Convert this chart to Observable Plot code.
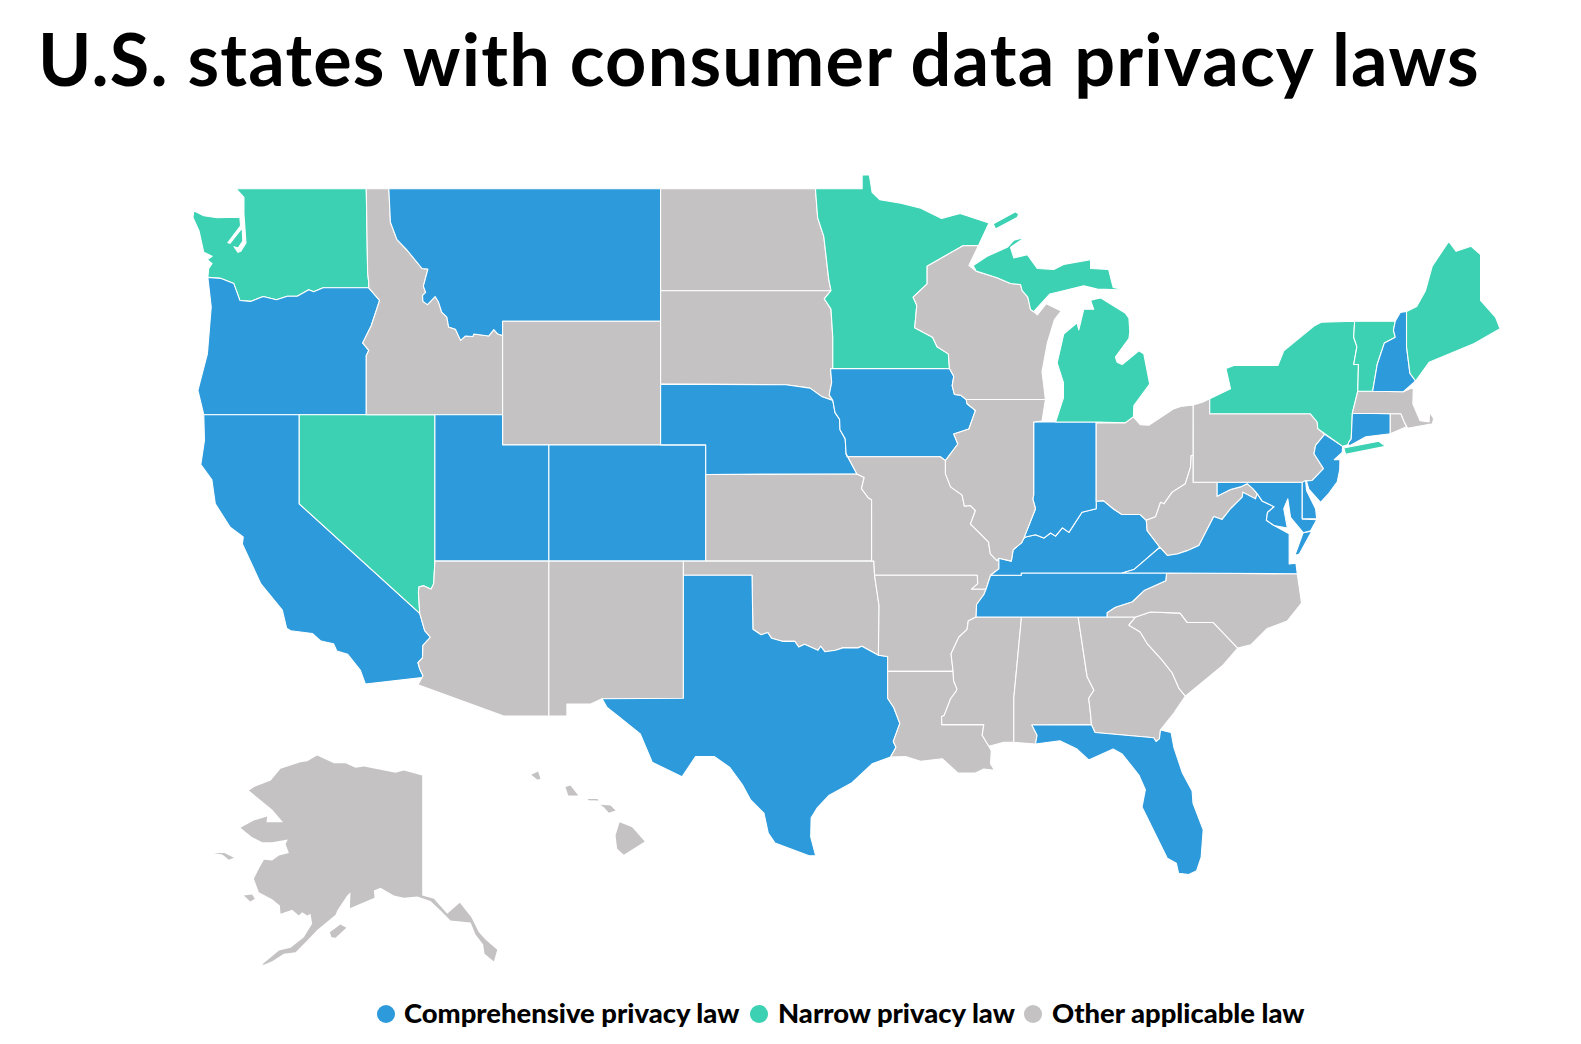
<!DOCTYPE html>
<html>
<head>
<meta charset="utf-8">
<script src="https://cdn.jsdelivr.net/npm/d3@7"></script>
<script src="https://cdn.jsdelivr.net/npm/@observablehq/plot@0.6"></script>
<style>
html,body{margin:0;padding:0;background:#fff;overflow:hidden}
#page{width:1581px;height:1044px;position:relative;font-family:Lato,"Open Sans",sans-serif;color:#000}
#title{height:160px;box-sizing:border-box;padding:13px 0 0 38px;font-size:72px;font-weight:700;line-height:90px;white-space:nowrap;letter-spacing:1.2px}
#chart{height:830px;line-height:0}
#legend{height:54px;display:block;position:relative;font-size:27.4px;font-weight:900;white-space:nowrap}
#legend span{position:absolute;top:7px;line-height:32px}
#legend i{position:absolute;top:15px;width:18px;height:18px;border-radius:50%}
</style>
</head>
<body>
<div id="page">
<div id="title">U.S. states with consumer data privacy laws</div>
<div id="chart"></div>
<div id="legend"></div>
</div>
<script>
// ---------- legend and colour categories ----------
const lawNames = ["Comprehensive privacy law", "Narrow privacy law", "Other applicable law"];
const lawColors = ["#2D9ADB", "#3DD1B4", "#C4C2C3"];
const comprehensive = ["OR","MT","CA","UT","CO","NE","IA","TX","IN","KY","TN","VA","MD","DE","NJ","CT","NH","FL"];
const narrow = ["WA","NV","MN","MI","NY","VT","ME"];

// ---------- shared borders, [longitude, latitude] ----------
const columbia = [[-124.11,46.36],[-123.55,46.33],[-122.96,46.17],[-122.69,45.65],[-122.22,45.62],[-121.66,45.77],[-121.07,45.67],[-120.59,45.78],[-120.15,45.78],[-119.64,45.98],[-119.42,45.92],[-119,46.04],[-116.98,46.04]];
const waId = [[-117.09,49],[-117.03,46.5],[-116.98,46.2],[-116.98,46.04]];
const orId = [[-116.98,46.04],[-116.5,45.65],[-116.87,44.86],[-117.25,44.32],[-116.98,44.08],[-117.09,43.92],[-117.09,42]];
const idMt = [[-116.09,49],[-116.02,48.02],[-115.73,47.5],[-115.29,47.19],[-114.62,46.63],[-114.36,46.61],[-114.56,46.09],[-114.46,45.9],[-114.6,45.8],[-114.58,45.62],[-114.38,45.52],[-114.04,45.77],[-113.89,45.6],[-113.75,45.29],[-113.52,45.13],[-113.44,44.82],[-113.14,44.75],[-112.91,44.4],[-112.69,44.54],[-112.37,44.52],[-112.32,44.6],[-111.66,44.54],[-111.44,44.74],[-111.26,44.6],[-111.05,44.55]];
const colorado = [[-114.72,35.13],[-114.5,34.5],[-114.25,34.26],[-114.58,33.96],[-114.6,33.5],[-114.8,33.33],[-114.72,33.09],[-114.58,32.85],[-114.62,32.77]];
const nvAz = [[-114.05,37],[-114.1,36.2],[-114.22,36],[-114.55,36.12],[-114.75,36.09],[-114.78,35.9],[-114.72,35.13]];
const redRiver = [[-99.96,34.55],[-99.6,34.35],[-99.3,34.43],[-99.13,34.22],[-98.66,34.11],[-98.1,34.11],[-97.93,33.9],[-97.67,34],[-97.08,33.78],[-96.96,33.93],[-96.77,33.73],[-96.3,33.78],[-95.98,33.87],[-95.31,33.87],[-95.13,33.93],[-94.4,33.6]];
const sabine = [[-93.99,33],[-93.99,32],[-93.72,31.65],[-93.45,31.05],[-93.74,30.36],[-93.62,30.14],[-93.86,29.76]];
const redNorth = [[-97.19,49],[-97.09,48.15],[-96.82,47.6],[-96.6,46.3],[-96.5,45.95]];
const mnSd = [[-96.5,45.95],[-96.8,45.7],[-96.5,45.38],[-96.42,44.5],[-96.42,43.5]];
const bigSioux = [[-96.52,43.5],[-96.47,43.05],[-96.58,42.65],[-96.42,42.47]];
const missouriNe = [[-96.42,42.47],[-96.32,42.07],[-96.12,41.85],[-96.1,41.5],[-95.87,41.2],[-95.83,40.7],[-95.35,40.02]];
const neIaLower = [[-95.83,40.7],[-95.78,40.6]];
const moKs = [[-95.35,40.02],[-95.03,39.9],[-95.15,39.52],[-94.84,39.2],[-94.7,39.14],[-94.7,37]];
const mnWi = [[-92.24,46.7],[-92.24,46.16],[-92.86,45.75],[-92.7,45.5],[-92.79,44.8],[-92,44.5],[-91.8,44.2],[-91.3,43.97],[-91.25,43.5]];
const upperMiss = [[-91.25,43.5],[-91.06,43.25],[-91.13,42.95],[-91.03,42.66],[-90.76,42.64],[-90.51,42.5]];
const midMiss = [[-90.51,42.5],[-90.47,42.36],[-90.1,42.14],[-90.39,41.53],[-91.06,41.36],[-90.88,41.03],[-91.43,40.47]];
const lowMiss = [[-91.43,40.47],[-91.43,40.03],[-91.2,39.58],[-90.69,39.3],[-90.59,38.92],[-90.32,38.94],[-90.1,38.77],[-90.32,38.3],[-89.88,37.96],[-89.52,37.67],[-89.44,37.26],[-89.15,37.02],[-89.06,37.1]];
const tnMiss = [[-89.43,36.5],[-89.63,36],[-89.73,35.8],[-90.05,35.45],[-90.07,35]];
const msArk = [[-90.07,35],[-90.42,34.85],[-90.47,34.55],[-90.84,34.26],[-91.18,33.65],[-91.09,33]];
const msLa = [[-91.09,33],[-91.07,32.66],[-90.92,32.35],[-90.95,32.27],[-91.2,31.98],[-91.48,31.36],[-91.6,31.3],[-91.59,31],[-89.73,31],[-89.8,30.6],[-89.58,30.28],[-89.5,30.18]];
const ilKy = [[-87.96,37.8],[-88.05,37.65],[-88.43,37.4],[-88.51,37],[-89.06,37.1]];
const ohioIn = [[-87.96,37.8],[-87.88,37.85],[-87.44,37.93],[-87.07,37.81],[-86.77,37.99],[-86.55,37.88],[-86.25,38.17],[-85.96,38.01],[-85.38,38.71],[-84.75,38.83],[-84.75,39.09]];
const ohioOh = [[-84.75,39.09],[-84.43,39.11],[-83.98,38.82],[-83.61,38.63],[-83.17,38.63],[-82.8,38.63],[-82.53,38.43]];
const ohioWv = [[-80.54,40.64],[-80.57,40.25],[-80.8,39.69],[-81.38,39.4],[-81.75,39],[-81.9,39.05],[-82.12,38.55],[-82.53,38.43]];
const kyWv = [[-82.53,38.43],[-82.49,38.07],[-81.93,37.49]];
const kyVa = [[-81.93,37.49],[-82.5,37.1],[-83.08,36.7],[-83.6,36.58]];
const vaWv = [[-81.93,37.49],[-81.6,37.2],[-81.16,37.25],[-80.72,37.37],[-80.2,37.55],[-79.54,38.56],[-79.17,38.46],[-78.8,38.83],[-78.28,39.23],[-78.25,39.4],[-77.69,39.17],[-77.62,39.35]];
const mdWv = [[-79.39,39.26],[-78.8,39.49],[-78.36,39.58],[-78.06,39.69],[-77.81,39.52],[-77.62,39.35]];
const potomac = [[-77.62,39.35],[-77.4,39.1],[-76.87,38.9],[-77.16,38.7],[-77.21,38.43],[-76.87,38.25]];
const tnNc = [[-84.27,35],[-84.27,35.15],[-83.9,35.35],[-83.15,35.55],[-82.63,35.95],[-81.67,36.3],[-81.63,36.58]];
const ncSc = [[-78.48,33.86],[-79.57,34.8],[-80.72,34.8],[-81.03,35.14],[-82.35,35.18],[-83,35]];
const savannah = [[-83,35],[-83.3,34.7],[-82.8,34.45],[-82.49,34.03],[-81.83,33.42],[-81.38,32.94],[-81.09,32.38],[-80.8,32.08]];
const alGa = [[-85.55,35],[-85.15,32.8],[-84.85,32.3],[-85.08,32],[-85,31.4],[-84.96,31]];
const gaFl = [[-84.96,31],[-84.8,30.7],[-82.2,30.5],[-82.1,30.36],[-81.95,30.46],[-81.9,30.8],[-81.43,30.7]];
const alFl = [[-84.96,31],[-87.6,30.99],[-87.37,30.6],[-87.44,30.26]];
const wiUp = [[-90.39,46.72],[-90.07,46.55],[-89.14,46.35],[-88.55,46.17],[-88.1,46.14],[-88.03,45.95],[-87.78,45.75],[-87.66,45.37],[-87.52,45.3]];
const nyVt = [[-73.3,45],[-73.34,44.5],[-73.2,44.2],[-73.34,43.63],[-73.13,43.63],[-73.16,42.77]];
const nyMa = [[-73.16,42.77],[-73.4,42.05]];
const nyCt = [[-73.4,42.05],[-73.45,41.2],[-73.55,41.1],[-73.6,41],[-73.5,40.98]];
const nyPa = [[-79.72,42.03],[-75.26,42.03],[-74.96,41.76],[-74.93,41.54],[-74.63,41.35]];
const nyNj = [[-74.63,41.35],[-73.83,40.95]];
const paNj = [[-74.63,41.35],[-75.03,40.98],[-75.1,40.7],[-74.68,40.2],[-75.18,39.8]];
const vtNh = [[-71.5,45],[-71.58,44.72],[-71.5,44.5],[-71.98,44.32],[-72.3,43.63],[-72.5,42.77]];
const nhMe = [[-71,45.31],[-71,44.2],[-70.85,43.35],[-70.6,43.1]];

const rev = a => a.slice().reverse();

// ---------- state outlines ----------
const WA = [[[-122.85,49],...waId,...rev(columbia),[-124.07,46.63],[-123.92,46.78],[-124.13,46.9],[-123.92,47],[-124.29,47.12],[-124.5,47.76],[-124.77,48.16],[-124.73,48.36],[-124.29,48.21],[-123.69,48.15],[-123.25,48.16],[-122.69,48.16],[-122.66,47.91],[-123.22,47.41],[-123.13,47.39],[-122.59,47.85],[-122.56,47.46],[-122.77,47.25],[-122.95,47.29],[-122.77,47.12],[-122.65,47.15],[-122.42,47.4],[-122.51,48.26],[-122.51,48.75]]];
const OR = [[...columbia,...orId,[-124.29,42],[-124.55,42.8],[-124.13,43.97],[-123.96,45.45]]];
const CA = [[[-124.29,42],[-120.06,42],[-120.06,39],...colorado,[-117.13,32.53],[-117.35,33.04],[-117.91,33.63],[-118.39,33.75],[-118.54,34.02],[-119.1,34.12],[-119.48,34.4],[-120.44,34.5],[-120.62,34.59],[-120.81,35.25],[-121.76,36.19],[-122.58,37.6],[-122.54,37.85],[-123.12,38.19],[-123.78,39],[-123.93,39.82],[-124.42,40.34],[-124.26,41.15]]];
const NV = [[[-120.06,42],[-114.05,42],...nvAz,[-120.06,39]]];
const ID = [[...waId.slice(0,1),...idMt,[-111.05,42],...rev(orId),...rev(waId).slice(1)]];
const MT = [[...idMt,[-111.05,45],[-104.05,45],[-104.05,49]]];
const WY = [[[-111.05,45],[-104.05,45],[-104.05,41],[-111.05,41]]];
const UT = [[[-114.05,42],[-111.05,42],[-111.05,41],[-109,41],[-109,37],[-114.05,37]]];
const AZ = [[[-114.05,37],[-109,37],[-109,31.33],[-111,31.33],[-114.8,32.5],...rev(colorado),...rev(nvAz).slice(1)]];
const CO = [[[-109,41],[-102.05,41],[-102.05,37],[-109,37]]];
const NM = [[[-109,37],[-103.04,37],[-103.04,32],[-106.64,31.98],[-107.15,31.78],[-108.2,31.78],[-108.2,31.33],[-109,31.33]]];
const ND = [[[-104.05,49],...redNorth,[-104.05,45.95]]];
const SD = [[[-104.05,45.95],...mnSd,...bigSioux,[-96.92,42.6],[-97.43,42.87],[-98.5,42.98],[-104.05,43]]];
const NE = [[[-104.05,43],[-98.5,42.98],[-97.43,42.87],[-96.92,42.6],...missouriNe,[-102.05,40],[-102.05,41],[-104.05,41]]];
const KS = [[[-102.05,40],...moKs,[-102.05,37]]];
const OK = [[[-103.04,37],[-94.6,37],[-94.57,36.5],[-94.37,35.4],[-94.4,33.6],...rev(redRiver),[-100,36.5],[-103.04,36.5]]];
const TX = [[[-103.04,36.5],[-100,36.5],...redRiver,[-93.99,33.55],...sabine,[-94.68,29.5],[-95.57,28.77],[-96.6,28.27],[-97.1,27.8],[-97.38,27.4],[-97.4,26.65],[-97.18,25.9],[-97.47,25.9],[-98.98,26.4],[-99.28,26.8],[-99.47,27.58],[-100.06,28.1],[-100.43,28.7],[-100.98,29.36],[-101.66,29.78],[-102.5,29.78],[-103.1,29],[-104.42,29.56],[-104.95,30.65],[-105.9,31.3],[-106.42,31.65],[-106.64,31.98],[-103.04,32]]];
const MN = [[...redNorth,...mnSd,[-91.25,43.5],...rev(mnWi),[-90.65,47.32],[-89.97,47.32],[-89.5,48],[-90.78,48.28],[-91.6,48.13],[-92.52,48.43],[-93.41,48.58],[-94.33,48.68],[-94.68,48.9],[-94.8,49.4],[-95.12,49.4],[-95.12,49]]];
const IA = [[[-96.52,43.5],[-91.25,43.5],...upperMiss.slice(1),...midMiss.slice(1),[-91.66,40.6],[-95.78,40.6],...rev(neIaLower).slice(1),...rev(missouriNe).slice(2),...rev(bigSioux).slice(1)]];
const MO = [[[-95.78,40.6],[-91.66,40.6],...lowMiss,[-89.06,36.73],[-89.43,36.5],[-89.63,36],[-90.28,36],[-90,36.2],[-90.02,36.5],[-94.57,36.5],[-94.6,37],...rev(moKs),[-95.83,40.7]]];
const AR = [[[-94.57,36.5],[-90.02,36.5],[-90,36.2],[-90.28,36],[-89.63,36],[-89.73,35.8],[-90.05,35.45],...msArk,[-93.99,33],[-93.99,33.55],[-94.4,33.6],[-94.37,35.4]]];
const LA = [[...msLa,[-89.4,30],[-89.43,29.5],[-89.25,29.25],[-89.73,29.3],[-90.1,29.15],[-90.88,29.15],[-91.57,29.7],[-92.53,29.6],[-93.2,29.78],...rev(sabine)]];
const MS = [[[-90.07,35],[-88.06,35],[-88.4,32],[-88.4,30.33],[-88.85,30.33],...rev(msLa),...rev(msArk).slice(1)]];
const AL = [[[-88.06,35],[-85.55,35],...alGa.slice(1),...alFl.slice(1),[-88.4,30.33],[-88.4,32]]];
const GA = [[[-85.55,35],[-84.27,35],...savannah,[-81.3,31.45],...rev(gaFl).slice(1),...rev(alGa).slice(1)]];
const FL = [[...gaFl,[-81.31,30.14],[-80.94,29.17],[-80.5,28.45],[-80.46,27.97],[-80.01,26.93],[-80.1,25.84],[-80.3,25.3],[-80.65,25.15],[-81.1,25.2],[-81.2,25.6],[-81.6,25.8],[-82.72,27.82],[-82.57,28.5],[-82.86,29.07],[-83.6,29.88],[-84,30.07],[-85.08,29.65],[-85.6,30.07],[-86.36,30.39],...rev(alFl).slice(0,-1)]];
const SC = [[...ncSc,...savannah.slice(1),[-79.17,33.2]]];
const NC = [[[-81.63,36.58],[-75.84,36.55],[-75.65,35.5],[-76.29,34.85],[-77.17,34.58],[-77.9,33.98],...ncSc,...tnNc.slice(0,-1)]];
const TN = [[[-90.07,35],[-88.06,35],[-85.55,35],...tnNc,[-83.6,36.58],[-88.07,36.58],[-88.07,36.5],...tnMiss.slice(0,-1)]];
const KY = [[...ohioIn,...ohioOh.slice(1),...kyWv.slice(1),...kyVa.slice(1),[-88.07,36.58],[-88.07,36.5],[-89.43,36.5],[-89.06,36.73],[-89.06,37.1],[-88.51,37],[-88.43,37.4],[-88.05,37.65]]];
const IN = [[[-87.52,41.76],[-84.75,41.76],...rev(ohioIn),[-87.44,38.83],[-87.56,39.17],[-87.52,39.3]]];
const IL = [[[-90.51,42.5],[-87,42.5],[-87.15,41.79],[-87.52,41.76],[-87.52,39.3],[-87.56,39.17],[-87.44,38.83],...ilKy,...rev(lowMiss).slice(1),...rev(midMiss).slice(1)]];
const WI = [[[-90.65,47.32],[-89.97,47.32],...wiUp,[-87.36,45.2],[-86.96,45.55],[-86.3,45.32],[-86.6,45.05],[-86.92,44.3],[-87.15,43.4],[-87,42.5],...rev(upperMiss),...rev(mnWi).slice(1)]];
const MI = [
  [[-90.2,46.72],[-89.58,47],[-88.69,47.27],[-88.4,47.48],[-87.74,47.6],[-88.1,47.48],[-88.55,47.27],[-88.4,46.95],[-87.8,47.05],[-87.36,46.63],[-86.63,46.6],[-86.19,46.75],[-85,46.9],[-85,46.63],[-84.2,46.6],[-84,46.05],[-83.45,45.97],[-84.7,46],[-85.3,46.1],[-86.2,45.95],[-86.8,45.85],[-87.52,45.3],...rev(wiUp).slice(1,-1),[-90.07,46.55]],
  [[-84.86,45.68],[-84.56,45.73],[-83.45,45.25],[-83.3,45.1],[-83.26,44.67],[-83.3,44.46],[-83.9,43.87],[-83.82,43.7],[-83.6,43.63],[-82.86,44.07],[-82.64,43.97],[-82.38,43],[-83.08,42.3],[-83.1,41.93],[-83.46,41.73],[-84.75,41.76],[-86.55,41.76],[-86.2,42.55],[-86.2,43.05],[-86.48,43.68],[-86.19,44.6],[-85.6,44.95],[-85.52,44.73],[-85.3,45.38],[-84.86,45.38],[-85,45.65]],
  [[-89.31,47.97],[-88.33,48.33],[-88.18,48.26],[-88.25,48.16],[-89.21,47.82]]
];
const OH = [[[-84.75,41.73],[-83.46,41.73],[-83.1,41.93],[-82.8,41.67],[-82.42,41.65],[-81.3,42.2],[-81,42.27],[-80.45,42.32],[-80.45,40.64],...ohioWv,...rev(ohioOh).slice(1)]];
const WV = [[[-80.45,40.64],[-80.45,39.74],[-79.39,39.74],...mdWv,...rev(vaWv).slice(1),...rev(kyWv).slice(1),...rev(ohioWv).slice(1)]];
const VA = [
  [...vaWv,...potomac.slice(1),[-76.2,37.96],[-76.2,36.9],[-75.9,36.93],[-75.84,36.55],[-81.63,36.58],[-83.6,36.58],...rev(kyVa).slice(1)],
  [[-75.58,38],[-75.2,38.05],[-75.75,37.25],[-75.95,37.2]]
];
const MD = [[[-79.39,39.74],[-75.62,39.74],[-75.62,38.48],[-74.98,38.45],[-75.25,38.07],[-75.58,38],[-76.14,38.53],[-76.26,39.17],[-76.44,38.83],[-76.28,38.16],...rev(potomac),...rev(mdWv).slice(1)]];
const DE = [[[-75.62,39.82],[-75.47,39.8],[-75.43,39.46],[-75.03,38.83],[-74.98,38.48],[-75.62,38.48]]];
const PA = [[[-80.45,42.32],[-80.05,42.41],[-79.72,42.52],...nyPa,...paNj.slice(1),[-75.47,39.8],[-75.62,39.74],[-79.39,39.74],[-80.45,39.74]]];
const NJ = [[...nyNj,[-73.85,40.75],[-74.2,40.5],[-73.95,40.5],[-73.96,40.17],[-74.07,39.75],[-74.45,39.35],[-74.81,39.05],[-75.33,39.5],[-75.43,39.78],[-75.18,39.8],...rev(paNj).slice(1,-1)]];
const NY = [
  [[-79.72,42.52],[-78.8,42.85],[-79,43.5],[-78.65,43.6],[-76.7,43.6],[-76.44,44.07],[-75.1,44.85],[-74.78,44.97],...nyVt,...nyMa.slice(1),...nyCt.slice(1,-1),[-73.83,40.95],...rev(nyPa).slice(1)],
  [[-73.78,40.9],[-72.23,41.12],[-71.93,40.95],[-73.7,40.68]]
];
const CT = [[...nyCt.slice(0,1),[-71.72,42.03],[-71.72,41.37],[-72.8,41.27],...rev(nyCt).slice(0,-1)]];
const RI = [[[-71.72,42.03],[-71.25,42.03],[-71.1,41.76],[-71,41.6],[-71.72,41.37]]];
const MA = [[[-73.16,42.77],[-72.5,42.77],[-71.15,42.75],[-70.7,42.9],[-70.72,42.36],[-70.4,41.8],[-70,41.76],[-69.98,42.08],[-69.8,41.88],[-69.85,41.7],[-70.95,41.55],[-71.1,41.76],[-71.25,42.03],[-73.4,42.05]]];
const VT = [[[-73.3,45],...vtNh,[-73.16,42.77],...rev(nyVt).slice(1,-1)]];
const NH = [[[-71.27,45.28],[-71,45.31],...nhMe.slice(1),[-71.15,42.75],[-72.5,42.77],...rev(vtNh).slice(1)]];
const ME = [[...nhMe,[-70,43.7],[-68,44.3],[-66.86,44.77],[-67.05,45.12],[-67.72,45.65],[-67.72,47.05],[-68.14,47.3],[-68.8,47.15],[-69.13,47.45],[-69.86,46.7],[-70.16,45.95],[-70.55,45.46]]];
const AK = [
  [[-156.4,71.21],[-153.95,70.61],[-152.24,70.61],[-150.77,70.25],[-149.55,70.35],[-144.91,69.86],[-143.69,70.04],[-141,69.65],[-141,60.3],[-139.29,60.04],[-137.33,58.87],[-135.48,59.73],[-133.8,58.6],[-132.7,57.44],[-131.7,56.84],[-130,56.06],[-130.49,55.15],[-131.86,55.75],[-132.06,56.48],[-133.18,57.26],[-133.9,58.19],[-136.85,58.35],[-138.31,59.13],[-139.78,59.86],[-141.73,60.22],[-143.69,60.12],[-145.15,60.3],[-147.11,60.9],[-148.09,60.69],[-147.99,60.12],[-149.55,59.78],[-151.6,59.31],[-151.51,60.69],[-150.29,61.21],[-152,60.3],[-153.46,59.13],[-153.7,58.8],[-156.4,57.6],[-157.86,56.79],[-159.57,55.88],[-161.28,55.75],[-163,55.18],[-164.2,54.89],[-164.46,54.92],[-162,56.01],[-160.3,56.22],[-158.35,57.05],[-157.13,58.09],[-157.37,58.87],[-157.86,58.74],[-158.6,59],[-159.1,58.74],[-160.06,59.18],[-161.77,58.87],[-161.87,59.52],[-163,60],[-164.95,60.56],[-165.68,61.6],[-164.95,62.38],[-164.2,63.08],[-163,63.03],[-162,63.41],[-160.55,63.6],[-161.04,64.32],[-160.7,64.66],[-163,64.45],[-164.46,64.45],[-165.93,64.84],[-167.64,65.57],[-165.7,66.14],[-163.73,66.45],[-163.83,66],[-161.4,66],[-163,67],[-166.4,68.48],[-165.7,68.74],[-163.2,69.26],[-161.77,70.17],[-158.84,70.69],[-157.86,70.77]],
  [[-171.55,63.6],[-170.3,63.49],[-169.35,63.08],[-168.6,63.23],[-170,63.6]],
  [[-167.15,60.3],[-165.95,60.38],[-165.53,60.04],[-166.2,59.83]],
  [[-154.54,57.44],[-153,58.04],[-152.12,57.78],[-153.7,57],[-154.3,57.05]]
];
const HI = [
  [[-159.68,22.08],[-159.39,22.21],[-159.29,21.92],[-159.43,21.9]],
  [[-158.24,21.6],[-158.03,21.66],[-157.7,21.27],[-158.12,21.27]],
  [[-157.3,21.14],[-156.9,21.14],[-156.83,21.08],[-157.26,21.09]],
  [[-156.76,20.91],[-156.34,20.88],[-156.13,20.69],[-156.41,20.6],[-156.62,20.82]],
  [[-155.96,20.23],[-155.43,20.04],[-154.9,19.48],[-155.78,18.97],[-156.06,19.2],[-156.13,19.72]]
];

const outlines = {WA,OR,CA,NV,ID,MT,WY,UT,AZ,CO,NM,ND,SD,NE,KS,OK,TX,MN,IA,MO,AR,LA,MS,AL,GA,FL,SC,NC,TN,KY,IN,IL,WI,MI,OH,WV,VA,MD,DE,PA,NJ,NY,CT,RI,MA,VT,NH,ME,AK,HI};
const insetStates = ["AK","HI"];

const lawOf = id => comprehensive.includes(id) ? lawNames[0] : narrow.includes(id) ? lawNames[1] : lawNames[2];
const states = Object.entries(outlines).map(([id, rings]) => ({
  type: "Feature",
  properties: {id, law: lawOf(id)},
  geometry: {type: "MultiPolygon", coordinates: rings.map(r => [[...r, r[0]]])}
}));

// ---------- Mercator for the lower 48, with Alaska and Hawaii as insets ----------
const mercator = lat => Math.log(Math.tan(Math.PI / 4 + lat * Math.PI / 360));
const offsetY = 160;
const usaInsets = d3.geoTransform({
  point(lon, lat) {
    let x, y;
    if (lat > 50 && lon < -128) {
      x = 421.7 + 6.82 * (lon + 141);
      y = 775 + 12.83 * (69.65 - lat);
    } else if (lat < 23.5 && lon < -150) {
      x = 630 + 23.75 * (lon + 155.5);
      y = 838 + 25.7 * (19.6 - lat);
    } else {
      x = 3008.5 + 22.57 * lon;
      y = 188.3 + 1293.6 * (mercator(49) - mercator(lat));
    }
    this.stream.point(x, y - offsetY);
  }
});

const chart = Plot.plot({
  width: 1581,
  height: 830,
  margin: 0,
  projection: usaInsets,
  color: {type: "ordinal", domain: lawNames, range: lawColors},
  marks: [
    Plot.geo(states.filter(d => !insetStates.includes(d.properties.id)), {fill: d => d.properties.law, stroke: "#fff", strokeWidth: 1.1, strokeLinejoin: "round"}),
    Plot.geo(states.filter(d => insetStates.includes(d.properties.id)), {fill: d => d.properties.law})
  ]
});
document.getElementById("chart").append(chart);

// ---------- legend ----------
const legendDotX = [377, 750, 1024];
const legendTextX = [404, 778, 1052];
const legend = document.getElementById("legend");
lawNames.forEach((name, i) => {
  const dot = document.createElement("i");
  dot.style.left = legendDotX[i] + "px";
  dot.style.background = lawColors[i];
  const label = document.createElement("span");
  label.style.left = legendTextX[i] + "px";
  label.textContent = name;
  legend.append(dot, label);
});
</script>
</body>
</html>
